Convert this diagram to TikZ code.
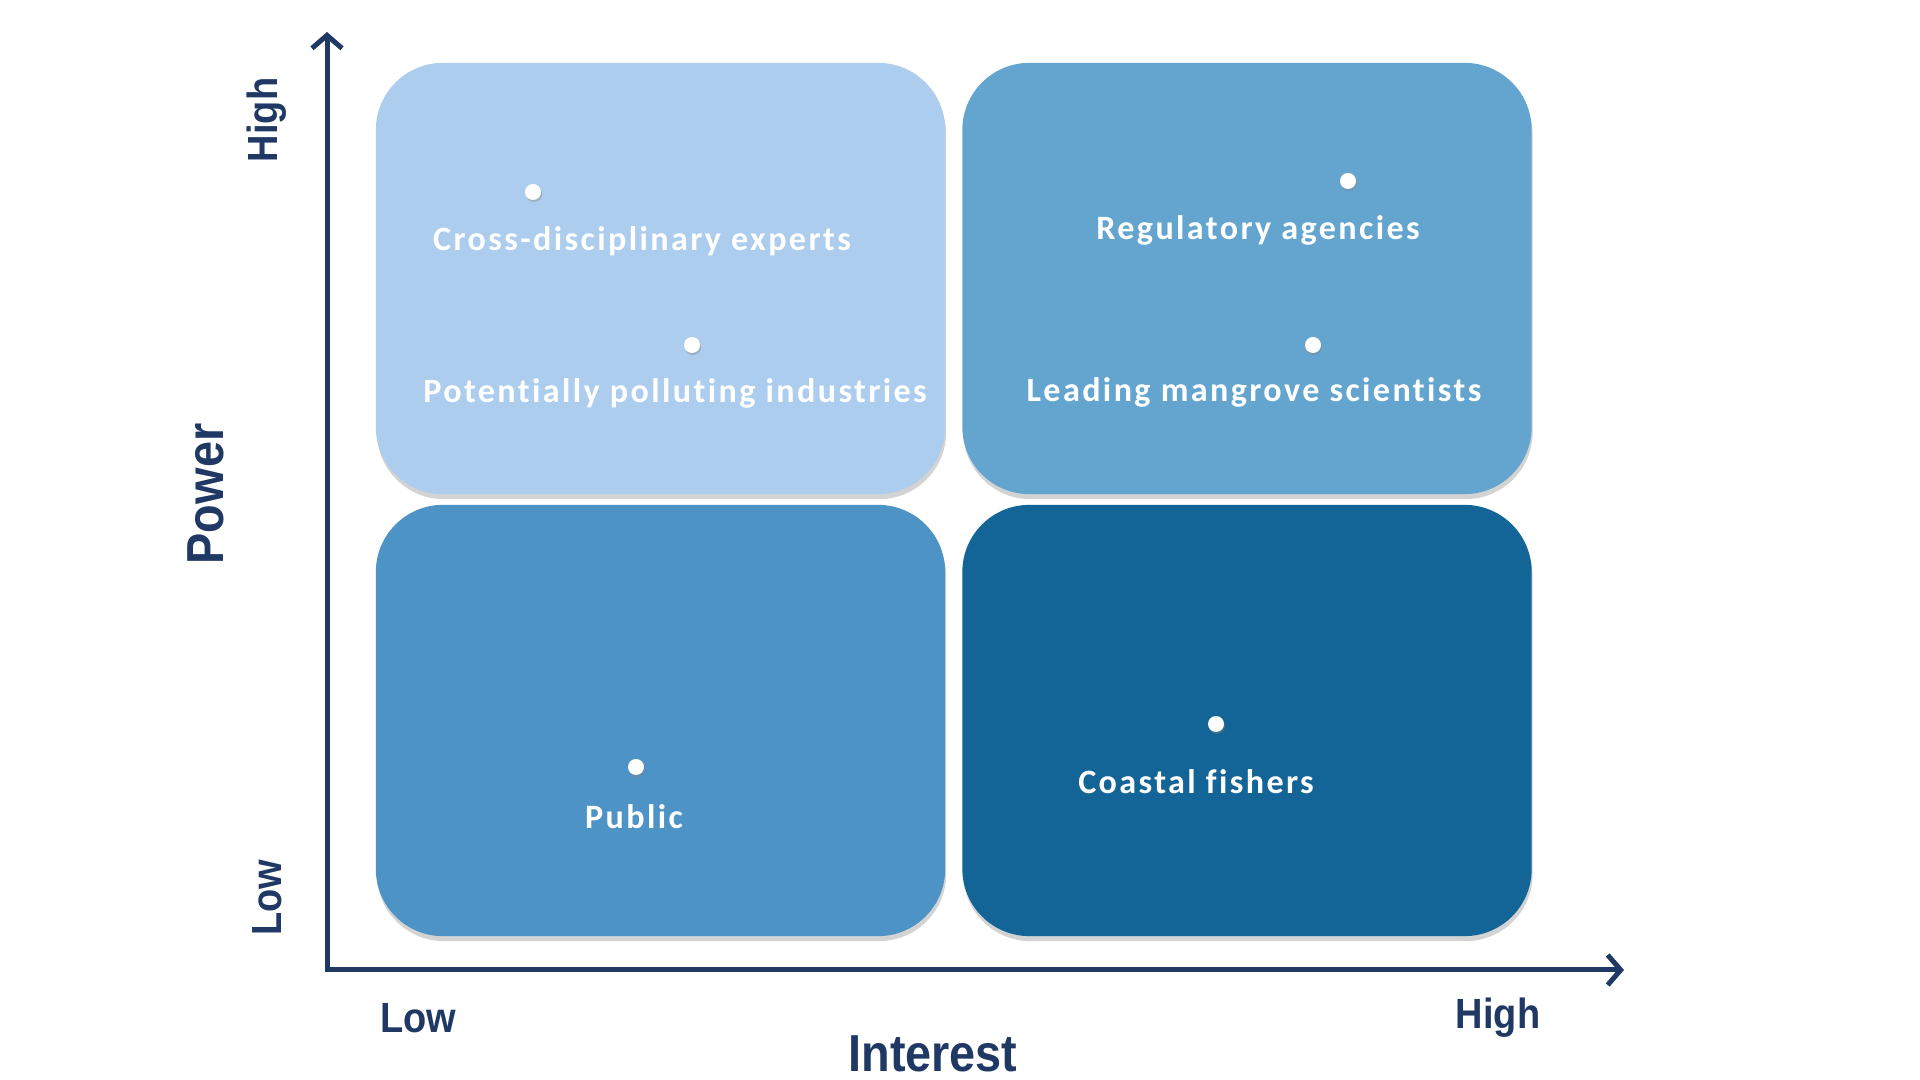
\documentclass[tikz,border=0pt]{standalone}
\usepackage{fontspec}
\setmainfont{Carlito}
\newfontfamily\axisfont[FakeStretch=0.9]{Liberation Sans}
\usetikzlibrary{arrows.meta,shadows}

\definecolor{navy}{RGB}{31,56,100}
\definecolor{qtl}{RGB}{173,205,239}
\definecolor{qtr}{RGB}{100,165,208}
\definecolor{qbl}{RGB}{77,147,197}
\definecolor{qbr}{RGB}{20,101,151}

\begin{document}
\begin{tikzpicture}[x=0.01cm, y=-0.01cm,
    quad/.style = {rounded corners=0.67cm, minimum width=5.69cm, minimum height=4.31cm,
        drop shadow={shadow xshift=0.01cm, shadow yshift=-0.05cm, opacity=0.35}},
    dot/.style = {circle, fill=white, inner sep=0pt, minimum size=0.16cm,
        drop shadow={shadow xshift=0.01cm, shadow yshift=-0.02cm, opacity=0.4}},
    who/.style = {text=white, font=\bfseries\addfontfeatures{LetterSpace=7,Ligatures=NoCommon}\fontsize{9.7pt}{11pt}\selectfont},
    tick/.style = {text=navy, font=\axisfont\bfseries\fontsize{12pt}{14pt}\selectfont},
    title/.style = {text=navy, font=\axisfont\bfseries\fontsize{14.8pt}{16pt}\selectfont},
    axis/.style = {draw=navy, line width=0.05cm, {Straight Barb[length=0.13cm, width=0.3cm]}-{Straight Barb[length=0.13cm, width=0.3cm]}}]
    \useasboundingbox (0,0) rectangle (1920,1080);

    % quadrants
    \node[quad, fill=qtl] (tl) at (660.5, 278.5) {};
    \node[quad, fill=qtr] (tr) at (1247, 278.5) {};
    \node[quad, fill=qbl] (bl) at (660.5, 720.5) {};
    \node[quad, fill=qbr] (br) at (1247, 720.5) {};

    % stakeholders
    \node[dot] (d1) at (533, 192) {};
    \node[who] (s1) at (642, 241) {Cross-disciplinary experts};
    \node[dot] (d2) at (692, 345) {};
    \node[who] (s2) at (675, 393) {Potentially polluting industries};
    \node[dot] (d3) at (1348, 181) {};
    \node[who] (s3) at (1258, 230) {Regulatory agencies};
    \node[dot] (d4) at (1313, 345) {};
    \node[who] (s4) at (1254, 392) {Leading mangrove scientists};
    \node[dot] (d5) at (636, 767) {};
    \node[who] (s5) at (634, 817) {Public};
    \node[dot] (d6) at (1216, 724) {};
    \node[who] (s6) at (1196, 782) {Coastal fishers};

    % axes
    \coordinate (o) at (327, 970);
    \coordinate (ytop) at (327, 32);
    \coordinate (xend) at (1624, 970);
    \draw[axis] (ytop) -- (o) -- (xend);

    \node[tick] (xlow) at (418, 1018) {Low};
    \node[tick] (xhigh) at (1498, 1018) {High};
    \node[title] (xlab) at (933, 1054) {Interest};
    \node[tick, rotate=90] (ylow) at (267, 898) {Low};
    \node[tick, rotate=90] (yhigh) at (267, 120) {High};
    \node[title, rotate=90] (ylab) at (206, 494) {Power};

\end{tikzpicture}
\end{document}
